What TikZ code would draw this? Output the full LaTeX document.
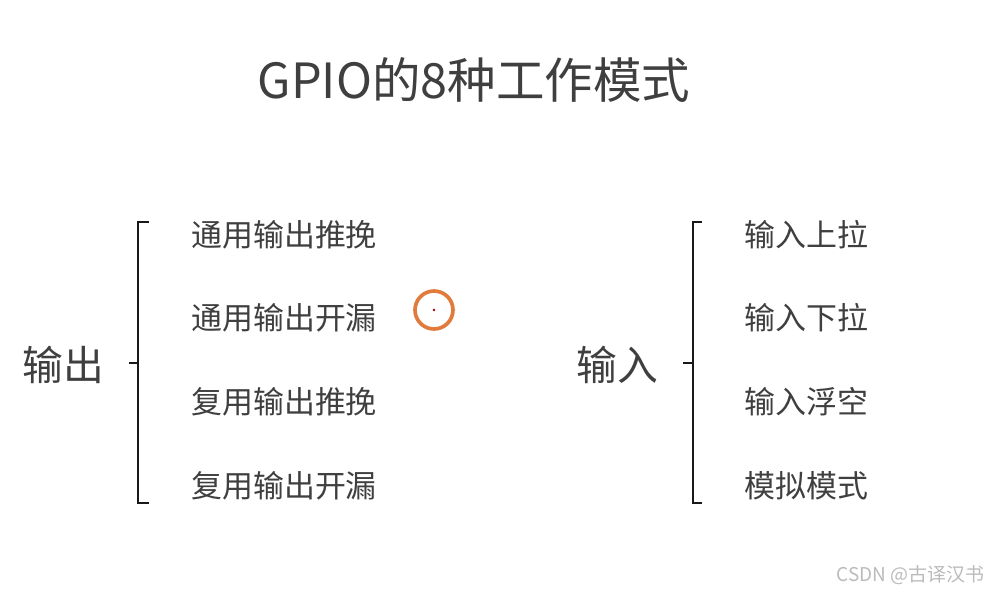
\documentclass[tikz,border=0pt]{standalone}
\usepackage{fontspec}
\usepackage{xcolor}
\usepackage{tikz}
\usetikzlibrary{positioning}
\newfontfamily\cjk{Noto Sans CJK SC}
\definecolor{textgray}{HTML}{3F3F3F}
\definecolor{ringorange}{HTML}{E27A3C}
\definecolor{markgray}{HTML}{BBBBBB}

\begin{document}
\begin{tikzpicture}[x=0.025cm, y=-0.025cm, every node/.style={font=\cjk, text=textgray, inner sep=0pt},
  mode/.style={anchor=west, font=\cjk\fontsize{22}{26}\selectfont},
  group/.style={anchor=west, font=\cjk\fontsize{29}{34}\selectfont},
  bracket/.style={line width=2.1pt, black!90, line cap=butt}]
  \useasboundingbox[fill=white] (0,0) rectangle (987,592);
  \node[font=\cjk\fontsize{34.5}{40}\selectfont] (title) at (474,80) {GPIO的8种工作模式};
  % output modes
  \node[group] (out) at (22,365) {输出};
  \node[mode] (out1) at (191,235) {通用输出推挽};
  \node[mode] (out2) at (191,318) {通用输出开漏};
  \node[mode] (out3) at (191,402) {复用输出推挽};
  \node[mode] (out4) at (191,486) {复用输出开漏};
  \draw[bracket] (149,222) -- (138,222) -- (138,503) -- (149,503);
  \draw[bracket] (138,363) -- (129,363);
  % input modes
  \node[group] (in) at (576,365) {输入};
  \node[mode] (in1) at (744,235) {输入上拉};
  \node[mode] (in2) at (744,318) {输入下拉};
  \node[mode] (in3) at (744,402) {输入浮空};
  \node[mode] (in4) at (744,486) {模拟模式};
  \draw[bracket] (702,222) -- (693,222) -- (693,503) -- (702,503);
  \draw[bracket] (693,363) -- (683,363);
  % cursor mark
  \draw[ringorange, line width=2.6pt] (434,310) circle (19);
  \fill[red!60!black] (434,310) circle (1.4);
  \node[font=\cjk\fontsize{13.5}{16}\selectfont, text=markgray, anchor=east] (mark) at (985,575) {CSDN @古译汉书};
\end{tikzpicture}
\end{document}
